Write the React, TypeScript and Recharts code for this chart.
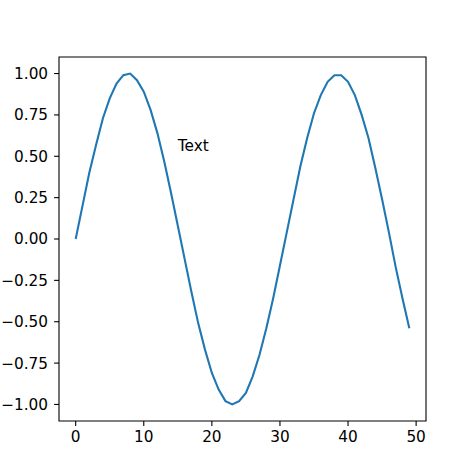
import React from "react";
import {
  LineChart,
  Line,
  XAxis,
  YAxis,
  ReferenceDot,
  ReferenceArea,
} from "recharts";

const xValues = Array.from({ length: 50 }, (_, i) => i);
const yValues = [
  0.0, 0.2, 0.4, 0.57, 0.73, 0.85, 0.94, 0.99, 1.0, 0.96,
  0.89, 0.78, 0.64, 0.47, 0.28, 0.08, -0.12, -0.32, -0.51, -0.67,
  -0.81, -0.91, -0.98, -1.0, -0.98, -0.93, -0.83, -0.7, -0.54, -0.36,
  -0.16, 0.04, 0.24, 0.44, 0.61, 0.76, 0.87, 0.95, 0.99, 0.99,
  0.95, 0.87, 0.75, 0.61, 0.43, 0.24, 0.04, -0.17, -0.36, -0.54,
];
const xTicks = [0, 10, 20, 30, 40, 50];
const yTicks = [-1, -0.75, -0.5, -0.25, 0, 0.25, 0.5, 0.75, 1];
const note = { x: 15, y: 0.53, text: "Text" };

const xDomain = [-2.45, 51.45];
const yDomain = [-1.1, 1.1];

const data = xValues.map((x, i) => ({ x, y: yValues[i] }));

const FONT = "DejaVu Sans";
const tickStyle = { fontSize: 15.3, fill: "#000", fontFamily: FONT };
const tickLine = { stroke: "#000", strokeWidth: 1.1 };

export default function App() {
  return (
    <div style={{ position: "absolute", left: 0, top: 0, background: "#fff" }}>
      <LineChart
        width={474}
        height={474}
        data={data}
        margin={{ top: 57, right: 48, bottom: 23, left: 9 }}
      >
        <XAxis
          dataKey="x"
          type="number"
          domain={xDomain}
          ticks={xTicks}
          allowDataOverflow
          height={30}
          tick={tickStyle}
          tickSize={4.9}
          tickMargin={5}
          axisLine={false}
          tickLine={tickLine}
        />
        <YAxis
          type="number"
          domain={yDomain}
          ticks={yTicks}
          allowDataOverflow
          width={50}
          tick={tickStyle}
          tickSize={4.9}
          tickMargin={6}
          tickFormatter={(v: number) => v.toFixed(2).replace("-", "\u2212")}
          axisLine={false}
          tickLine={tickLine}
        />
        <ReferenceArea
          x1={xDomain[0]}
          x2={xDomain[1]}
          y1={yDomain[0]}
          y2={yDomain[1]}
          fill="none"
          fillOpacity={0}
          stroke="#000"
          strokeWidth={1.1}
          ifOverflow="visible"
        />
        <Line
          dataKey="y"
          type="linear"
          stroke="#1f77b4"
          strokeWidth={2.1}
          dot={false}
          isAnimationActive={false}
        />
        <ReferenceDot
          x={note.x}
          y={note.y}
          r={0}
          fill="none"
          stroke="none"
          label={(props: any) => {
            const vb = props.viewBox || {};
            return (
              <text
                x={vb.x}
                y={vb.y}
                fontSize={15.3}
                fontFamily={FONT}
                fill="#000"
                textAnchor="start"
              >
                {note.text}
              </text>
            );
          }}
        />
      </LineChart>
    </div>
  );
}
